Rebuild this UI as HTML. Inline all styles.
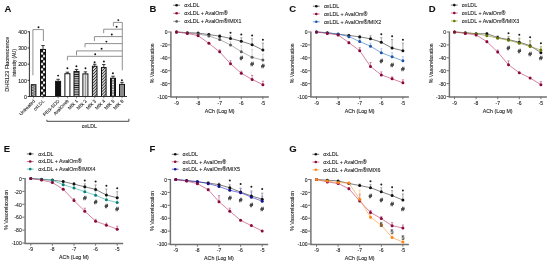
<!DOCTYPE html>
<html><head><meta charset="utf-8"><style>
html,body{margin:0;padding:0;background:#fff;}
svg{display:block;filter:blur(0.4px);}
text{font-family:"Liberation Sans", sans-serif;stroke:#222;stroke-width:0.1px;}
</style></head><body>
<svg width="550" height="264" viewBox="0 0 550 264" font-family='"Liberation Sans", sans-serif'>
<rect width="550" height="264" fill="#fff"/>
<text x="4.6" y="12" font-size="9.5" font-weight="bold" fill="#111">A</text>
<defs>
<pattern id="pU" width="4.6" height="2.6" patternUnits="userSpaceOnUse" x="31.6" y="0"><rect width="4.6" height="2.6" fill="#3a3a3a"/><circle cx="1.25" cy="0.65" r="0.95" fill="#f0f0f0"/><circle cx="3.35" cy="1.95" r="0.95" fill="#e8e8e8"/><circle cx="1.25" cy="3.25" r="0.95" fill="#f0f0f0"/><circle cx="3.35" cy="-0.65" r="0.95" fill="#e8e8e8"/></pattern>
<pattern id="pC" width="6" height="5.3" patternUnits="userSpaceOnUse" x="40" y="-1"><rect width="6" height="5.4" fill="#111"/><rect x="0.8" y="0.4" width="2.3" height="2.1" fill="#fff"/><rect x="3" y="3.05" width="2.3" height="2.1" fill="#fff"/></pattern>
<pattern id="pH" width="6" height="2.2" patternUnits="userSpaceOnUse"><rect width="6" height="2.2" fill="#111"/><rect y="0.2" width="6" height="1" fill="#fff"/></pattern>
<pattern id="pV" width="6" height="2" patternUnits="userSpaceOnUse" x="82.3"><rect width="6" height="2" fill="#fff"/><rect x="2.6" width="1.2" height="2" fill="#777"/></pattern>
<pattern id="pD" width="2.1" height="2.1" patternUnits="userSpaceOnUse" patternTransform="rotate(45)"><rect width="2.1" height="2.1" fill="#fff"/><rect width="0.95" height="2.1" fill="#222"/></pattern>
<pattern id="pG" width="6" height="2.45" patternUnits="userSpaceOnUse" x="110"><rect width="6" height="2.45" fill="#111"/><rect x="1.9" y="0" width="2.2" height="2.45" fill="#777"/><rect x="2.1" y="0.6" width="1.8" height="1.2" fill="#f4f4f4"/></pattern>
</defs>
<rect x="31.3" y="84.71" width="4.6" height="11.79" fill="url(#pU)" stroke="#111" stroke-width="1"/>
<path d="M43,48.95V45.55M41.3,45.55H44.7" stroke="#222" stroke-width="0.9" fill="none"/>
<rect x="40.5" y="49.45" width="5" height="47.05" fill="url(#pC)" stroke="#111" stroke-width="1"/>
<path d="M58.1,80.81V79.31M56.4,79.31H59.8" stroke="#222" stroke-width="0.9" fill="none"/>
<rect x="55.6" y="81.31" width="5" height="15.19" fill="#111" stroke="#111" stroke-width="1"/>
<path d="M67.4,73.21V72.21M65.7,72.21H69.1" stroke="#222" stroke-width="0.9" fill="none"/>
<rect x="64.9" y="73.71" width="5" height="22.79" fill="#fff" stroke="#111" stroke-width="1"/>
<path d="M76.5,70.94V69.44M74.8,69.44H78.2" stroke="#222" stroke-width="0.9" fill="none"/>
<rect x="74" y="71.44" width="5" height="25.06" fill="url(#pH)" stroke="#111" stroke-width="1"/>
<path d="M85.4,73.37V71.87M83.7,71.87H87.1" stroke="#222" stroke-width="0.9" fill="none"/>
<rect x="82.9" y="73.87" width="5" height="22.63" fill="url(#pV)" stroke="#111" stroke-width="1"/>
<path d="M94.7,65.77V64.27M93,64.27H96.4" stroke="#222" stroke-width="0.9" fill="none"/>
<rect x="92.4" y="66.27" width="4.6" height="30.23" fill="url(#pD)" stroke="#111" stroke-width="1"/>
<path d="M103.8,67.06V64.56M102.1,64.56H105.5" stroke="#222" stroke-width="0.9" fill="none"/>
<rect x="101.5" y="67.56" width="4.6" height="28.94" fill="url(#pD)" stroke="#111" stroke-width="1"/>
<path d="M113,77.74V76.24M111.3,76.24H114.7" stroke="#222" stroke-width="0.9" fill="none"/>
<rect x="110.5" y="78.24" width="5" height="18.26" fill="url(#pG)" stroke="#111" stroke-width="1"/>
<path d="M122,83.88V82.38M120.3,82.38H123.7" stroke="#222" stroke-width="0.9" fill="none"/>
<rect x="119.5" y="84.38" width="5" height="12.12" fill="#8a8a8a" stroke="#111" stroke-width="1"/>
<circle cx="58.1" cy="75.6" r="0.95" fill="#111"/>
<circle cx="67.4" cy="68.2" r="0.95" fill="#111"/>
<circle cx="76.4" cy="66.3" r="0.95" fill="#111"/>
<circle cx="85.5" cy="68.3" r="0.95" fill="#111"/>
<circle cx="94.6" cy="62.2" r="0.95" fill="#111"/>
<circle cx="103.9" cy="61.5" r="0.95" fill="#111"/>
<circle cx="112.9" cy="73.3" r="0.95" fill="#111"/>
<circle cx="121.9" cy="80.3" r="0.95" fill="#111"/>
<g stroke="#333" stroke-width="1" fill="none">
<line x1="29.4" y1="31.3" x2="29.4" y2="97"/>
<line x1="28.9" y1="96.5" x2="127" y2="96.5"/>
<line x1="27.6" y1="96.5" x2="29.4" y2="96.5"/>
<line x1="27.6" y1="80.33" x2="29.4" y2="80.33"/>
<line x1="27.6" y1="64.15" x2="29.4" y2="64.15"/>
<line x1="27.6" y1="47.98" x2="29.4" y2="47.98"/>
<line x1="27.6" y1="31.8" x2="29.4" y2="31.8"/>
<line x1="33.6" y1="96.5" x2="33.6" y2="98.3" stroke-width="0.6"/>
<line x1="43.0" y1="96.5" x2="43.0" y2="98.3" stroke-width="0.6"/>
<line x1="58.1" y1="96.5" x2="58.1" y2="98.3" stroke-width="0.6"/>
<line x1="67.4" y1="96.5" x2="67.4" y2="98.3" stroke-width="0.6"/>
<line x1="76.5" y1="96.5" x2="76.5" y2="98.3" stroke-width="0.6"/>
<line x1="85.4" y1="96.5" x2="85.4" y2="98.3" stroke-width="0.6"/>
<line x1="94.7" y1="96.5" x2="94.7" y2="98.3" stroke-width="0.6"/>
<line x1="103.8" y1="96.5" x2="103.8" y2="98.3" stroke-width="0.6"/>
<line x1="113.0" y1="96.5" x2="113.0" y2="98.3" stroke-width="0.6"/>
<line x1="122.0" y1="96.5" x2="122.0" y2="98.3" stroke-width="0.6"/>
</g>
<g font-size="5.2" fill="#222" text-anchor="end">
<text x="26.9" y="98.7">0</text>
<text x="26.9" y="82.53">100</text>
<text x="26.9" y="66.35">200</text>
<text x="26.9" y="50.18">300</text>
<text x="26.9" y="34">400</text>
</g>
<text transform="translate(8.9,64.2) rotate(-90)" font-size="5.8" fill="#222" text-anchor="middle" textLength="55" lengthAdjust="spacingAndGlyphs">DHR123 Fluorescence</text>
<text transform="translate(15.7,62.8) rotate(-90)" font-size="5.2" fill="#222" text-anchor="middle" textLength="27.5" lengthAdjust="spacingAndGlyphs">intensity (AU)</text>
<g stroke="#858585" stroke-width="0.9" fill="none">
<path d="M32.9,75.3V29.6H43.4V41"/>
<path d="M113.4,26.4V22.4H122.3"/>
<path d="M103.7,33.2V29.2H122.3"/>
<path d="M94.4,41V36.6H122.3"/>
<path d="M85,47.3V43.6H122.3"/>
<path d="M76.5,55.4V50.9H122.3"/>
<path d="M67.4,60.4V56.3H122.3"/>
<path d="M122.3,22.4V70.3"/>
</g>
<circle cx="38.5" cy="27.3" r="0.95" fill="#111"/>
<circle cx="118.3" cy="20.1" r="0.95" fill="#111"/>
<circle cx="116.6" cy="26.7" r="0.95" fill="#111"/>
<circle cx="111.8" cy="34.5" r="0.95" fill="#111"/>
<circle cx="106.4" cy="41.6" r="0.95" fill="#111"/>
<circle cx="101.6" cy="48.8" r="0.95" fill="#111"/>
<circle cx="95.2" cy="54.3" r="0.95" fill="#111"/>
<g font-size="4.6" fill="#222" text-anchor="end">
<text transform="translate(35.3,101.5) rotate(-45)">Untreated</text>
<text transform="translate(44.7,101.5) rotate(-45)">oxLDL</text>
<text transform="translate(59.8,101.5) rotate(-45)">PEG-SOD</text>
<text transform="translate(69.1,101.5) rotate(-45)">AvalOm®</text>
<text transform="translate(78.2,101.5) rotate(-45)">MIX 1</text>
<text transform="translate(87.1,101.5) rotate(-45)">MIX 2</text>
<text transform="translate(96.4,101.5) rotate(-45)">MIX 3</text>
<text transform="translate(105.5,101.5) rotate(-45)">MIX 4</text>
<text transform="translate(114.7,101.5) rotate(-45)">MIX 5</text>
<text transform="translate(123.7,101.5) rotate(-45)">MIX 6</text>
</g>
<path d="M46.9,119.8V121.3H128.9V118.8" stroke="#333" stroke-width="0.9" fill="none"/>
<text x="89.3" y="127.6" font-size="5.2" fill="#222" text-anchor="middle">oxLDL</text>
<text x="149.6" y="12.2" font-size="9.5" font-weight="bold" fill="#111">B</text>
<line x1="173.2" y1="5.2" x2="180" y2="5.2" stroke="#3a3a3a" stroke-width="0.7"/>
<circle cx="176.6" cy="5.2" r="1.3" fill="#111111"/>
<text x="184.2" y="7.05" font-size="5.3" fill="#222">oxLDL</text>
<line x1="173.2" y1="13.3" x2="180" y2="13.3" stroke="#c0406f" stroke-width="0.7"/>
<circle cx="176.6" cy="13.3" r="1.3" fill="#880a3c"/>
<text x="184.2" y="15.15" font-size="5.3" fill="#222">oxLDL + AvalOm®</text>
<line x1="173.2" y1="21.4" x2="180" y2="21.4" stroke="#8a8a8a" stroke-width="0.7"/>
<circle cx="176.6" cy="21.4" r="1.3" fill="#5a5a5a"/>
<text x="184.2" y="23.25" font-size="5.3" fill="#222">oxLDL + AvalOm®/MIX1</text>
<g stroke="#707070" stroke-width="1.45" fill="none">
<line x1="170.9" y1="31.4" x2="170.9" y2="97.1"/>
<line x1="170.2" y1="96.9" x2="268.9" y2="96.9"/>
<line x1="168.1" y1="32" x2="170.5" y2="32" stroke-width="1"/>
<line x1="168.1" y1="44.9" x2="170.5" y2="44.9" stroke-width="1"/>
<line x1="168.1" y1="57.8" x2="170.5" y2="57.8" stroke-width="1"/>
<line x1="168.1" y1="70.7" x2="170.5" y2="70.7" stroke-width="1"/>
<line x1="168.1" y1="83.6" x2="170.5" y2="83.6" stroke-width="1"/>
<line x1="168.1" y1="96.5" x2="170.5" y2="96.5" stroke-width="1"/>
<line x1="176.5" y1="96.5" x2="176.5" y2="99.2" stroke-width="1"/>
<line x1="198.1" y1="96.5" x2="198.1" y2="99.2" stroke-width="1"/>
<line x1="219.7" y1="96.5" x2="219.7" y2="99.2" stroke-width="1"/>
<line x1="241.3" y1="96.5" x2="241.3" y2="99.2" stroke-width="1"/>
<line x1="262.9" y1="96.5" x2="262.9" y2="99.2" stroke-width="1"/>
</g>
<g font-size="5" fill="#222" text-anchor="end">
<text x="167.5" y="34.2">0</text>
<text x="167.5" y="47.1">-20</text>
<text x="167.5" y="60">-40</text>
<text x="167.5" y="72.9">-60</text>
<text x="167.5" y="85.8">-80</text>
<text x="167.5" y="98.7">-100</text>
</g>
<g font-size="5" fill="#222" text-anchor="middle">
<text x="176.5" y="104.8">-9</text>
<text x="198.1" y="104.8">-8</text>
<text x="219.7" y="104.8">-7</text>
<text x="241.3" y="104.8">-6</text>
<text x="262.9" y="104.8">-5</text>
</g>
<text x="219.7" y="112.9" font-size="5.25" fill="#222" text-anchor="middle">ACh (Log M)</text>
<text transform="translate(154.1,63.3) rotate(-90)" font-size="5.2" fill="#222" text-anchor="middle">% Vasorelaxation</text>
<path d="M208.9,34.58V33.58M207.8,33.58H210" stroke="#7a7a7a" stroke-width="0.65" fill="none"/>
<path d="M219.7,36.13V34.63M218.6,34.63H220.8" stroke="#7a7a7a" stroke-width="0.65" fill="none"/>
<path d="M230.5,38.45V35.95M229.4,35.95H231.6" stroke="#7a7a7a" stroke-width="0.65" fill="none"/>
<path d="M241.3,41.29V37.79M240.2,37.79H242.4" stroke="#7a7a7a" stroke-width="0.65" fill="none"/>
<path d="M252.1,44.71V38.71M251,38.71H253.2" stroke="#7a7a7a" stroke-width="0.65" fill="none"/>
<path d="M262.9,50.06V43.06M261.8,43.06H264" stroke="#7a7a7a" stroke-width="0.65" fill="none"/>
<path d="M208.9,36V35M207.8,35H210" stroke="#bdbdbd" stroke-width="0.65" fill="none"/>
<path d="M219.7,39.61V37.61M218.6,37.61H220.8" stroke="#bdbdbd" stroke-width="0.65" fill="none"/>
<path d="M230.5,44.9V41.9M229.4,41.9H231.6" stroke="#bdbdbd" stroke-width="0.65" fill="none"/>
<path d="M241.3,51.67V45.67M240.2,45.67H242.4" stroke="#bdbdbd" stroke-width="0.65" fill="none"/>
<path d="M252.1,57.28V49.38M251,49.38H253.2" stroke="#bdbdbd" stroke-width="0.65" fill="none"/>
<path d="M262.9,60.12V54.12M261.8,54.12H264" stroke="#bdbdbd" stroke-width="0.65" fill="none"/>
<path d="M208.9,43.35V42.35M207.8,42.35H210" stroke="#b85080" stroke-width="0.65" fill="none"/>
<path d="M219.7,51.87V49.87M218.6,49.87H220.8" stroke="#b85080" stroke-width="0.65" fill="none"/>
<path d="M230.5,63.73V60.73M229.4,60.73H231.6" stroke="#b85080" stroke-width="0.65" fill="none"/>
<path d="M241.3,73.28V71.28M240.2,71.28H242.4" stroke="#b85080" stroke-width="0.65" fill="none"/>
<path d="M252.1,79.41V75.41M251,75.41H253.2" stroke="#b85080" stroke-width="0.65" fill="none"/>
<path d="M262.9,84.7V81.2M261.8,81.2H264" stroke="#b85080" stroke-width="0.65" fill="none"/>
<polyline points="176.5,32 187.3,32.65 198.1,33.1 208.9,34.58 219.7,36.13 230.5,38.45 241.3,41.29 252.1,44.71 262.9,50.06" stroke="#3a3a3a" stroke-width="0.65" fill="none"/>
<circle cx="176.5" cy="32" r="1.5" fill="#111111"/>
<circle cx="187.3" cy="32.65" r="1.5" fill="#111111"/>
<circle cx="198.1" cy="33.1" r="1.5" fill="#111111"/>
<circle cx="208.9" cy="34.58" r="1.5" fill="#111111"/>
<circle cx="219.7" cy="36.13" r="1.5" fill="#111111"/>
<circle cx="230.5" cy="38.45" r="1.5" fill="#111111"/>
<circle cx="241.3" cy="41.29" r="1.5" fill="#111111"/>
<circle cx="252.1" cy="44.71" r="1.5" fill="#111111"/>
<circle cx="262.9" cy="50.06" r="1.5" fill="#111111"/>
<polyline points="176.5,32 187.3,32.97 198.1,33.94 208.9,36 219.7,39.61 230.5,44.9 241.3,51.67 252.1,57.28 262.9,60.12" stroke="#8a8a8a" stroke-width="0.65" fill="none"/>
<circle cx="176.5" cy="32" r="1.5" fill="#5a5a5a"/>
<circle cx="187.3" cy="32.97" r="1.5" fill="#5a5a5a"/>
<circle cx="198.1" cy="33.94" r="1.5" fill="#5a5a5a"/>
<circle cx="208.9" cy="36" r="1.5" fill="#5a5a5a"/>
<circle cx="219.7" cy="39.61" r="1.5" fill="#5a5a5a"/>
<circle cx="230.5" cy="44.9" r="1.5" fill="#5a5a5a"/>
<circle cx="241.3" cy="51.67" r="1.5" fill="#5a5a5a"/>
<circle cx="252.1" cy="57.28" r="1.5" fill="#5a5a5a"/>
<circle cx="262.9" cy="60.12" r="1.5" fill="#5a5a5a"/>
<polyline points="176.5,32 187.3,33.42 198.1,35.68 208.9,43.35 219.7,51.87 230.5,63.73 241.3,73.28 252.1,79.41 262.9,84.7" stroke="#c0406f" stroke-width="0.65" fill="none"/>
<circle cx="176.5" cy="32" r="1.5" fill="#880a3c"/>
<circle cx="187.3" cy="33.42" r="1.5" fill="#880a3c"/>
<circle cx="198.1" cy="35.68" r="1.5" fill="#880a3c"/>
<circle cx="208.9" cy="43.35" r="1.5" fill="#880a3c"/>
<circle cx="219.7" cy="51.87" r="1.5" fill="#880a3c"/>
<circle cx="230.5" cy="63.73" r="1.5" fill="#880a3c"/>
<circle cx="241.3" cy="73.28" r="1.5" fill="#880a3c"/>
<circle cx="252.1" cy="79.41" r="1.5" fill="#880a3c"/>
<circle cx="262.9" cy="84.7" r="1.5" fill="#880a3c"/>
<circle cx="230.5" cy="32.75" r="1" fill="#1a1a1a"/>
<circle cx="241.3" cy="34.59" r="1" fill="#1a1a1a"/>
<circle cx="252.1" cy="35.51" r="1" fill="#1a1a1a"/>
<circle cx="262.9" cy="39.86" r="1" fill="#1a1a1a"/>
<text x="241.3" y="60" font-size="5.9" fill="#444" text-anchor="middle" font-weight="bold" style="stroke:#444;stroke-width:0.35px">#</text>
<text x="252.1" y="65.61" font-size="5.9" fill="#444" text-anchor="middle" font-weight="bold" style="stroke:#444;stroke-width:0.35px">#</text>
<text x="262.9" y="68.45" font-size="5.9" fill="#444" text-anchor="middle" font-weight="bold" style="stroke:#444;stroke-width:0.35px">#</text>
<text x="289.3" y="12.2" font-size="9.5" font-weight="bold" fill="#111">C</text>
<line x1="312.9" y1="6.2" x2="319.7" y2="6.2" stroke="#3a3a3a" stroke-width="0.7"/>
<circle cx="316.3" cy="6.2" r="1.3" fill="#111111"/>
<text x="323.9" y="8.05" font-size="5.3" fill="#222">oxLDL</text>
<line x1="312.9" y1="14" x2="319.7" y2="14" stroke="#c0406f" stroke-width="0.7"/>
<circle cx="316.3" cy="14" r="1.3" fill="#880a3c"/>
<text x="323.9" y="15.85" font-size="5.3" fill="#222">oxLDL + AvalOm®</text>
<line x1="312.9" y1="21.8" x2="319.7" y2="21.8" stroke="#3d7cc9" stroke-width="0.7"/>
<circle cx="316.3" cy="21.8" r="1.3" fill="#1c55a6"/>
<text x="323.9" y="23.65" font-size="5.3" fill="#222">oxLDL + AvalOm®/MIX2</text>
<g stroke="#707070" stroke-width="1.45" fill="none">
<line x1="310.9" y1="31.4" x2="310.9" y2="97.1"/>
<line x1="310.2" y1="96.9" x2="408.9" y2="96.9"/>
<line x1="308.1" y1="32" x2="310.5" y2="32" stroke-width="1"/>
<line x1="308.1" y1="44.9" x2="310.5" y2="44.9" stroke-width="1"/>
<line x1="308.1" y1="57.8" x2="310.5" y2="57.8" stroke-width="1"/>
<line x1="308.1" y1="70.7" x2="310.5" y2="70.7" stroke-width="1"/>
<line x1="308.1" y1="83.6" x2="310.5" y2="83.6" stroke-width="1"/>
<line x1="308.1" y1="96.5" x2="310.5" y2="96.5" stroke-width="1"/>
<line x1="316.5" y1="96.5" x2="316.5" y2="99.2" stroke-width="1"/>
<line x1="338.1" y1="96.5" x2="338.1" y2="99.2" stroke-width="1"/>
<line x1="359.7" y1="96.5" x2="359.7" y2="99.2" stroke-width="1"/>
<line x1="381.3" y1="96.5" x2="381.3" y2="99.2" stroke-width="1"/>
<line x1="402.9" y1="96.5" x2="402.9" y2="99.2" stroke-width="1"/>
</g>
<g font-size="5" fill="#222" text-anchor="end">
<text x="307.5" y="34.2">0</text>
<text x="307.5" y="47.1">-20</text>
<text x="307.5" y="60">-40</text>
<text x="307.5" y="72.9">-60</text>
<text x="307.5" y="85.8">-80</text>
<text x="307.5" y="98.7">-100</text>
</g>
<g font-size="5" fill="#222" text-anchor="middle">
<text x="316.5" y="104.8">-9</text>
<text x="338.1" y="104.8">-8</text>
<text x="359.7" y="104.8">-7</text>
<text x="381.3" y="104.8">-6</text>
<text x="402.9" y="104.8">-5</text>
</g>
<text x="359.7" y="112.9" font-size="5.25" fill="#222" text-anchor="middle">ACh (Log M)</text>
<text transform="translate(294.1,63.3) rotate(-90)" font-size="5.2" fill="#222" text-anchor="middle">% Vasorelaxation</text>
<path d="M348.9,35.42V34.42M347.8,34.42H350" stroke="#7a7a7a" stroke-width="0.65" fill="none"/>
<path d="M359.7,36.9V35.4M358.6,35.4H360.8" stroke="#7a7a7a" stroke-width="0.65" fill="none"/>
<path d="M370.5,38.77V35.77M369.4,35.77H371.6" stroke="#7a7a7a" stroke-width="0.65" fill="none"/>
<path d="M381.3,42.19V37.69M380.2,37.69H382.4" stroke="#7a7a7a" stroke-width="0.65" fill="none"/>
<path d="M392.1,48.06V39.56M391,39.56H393.2" stroke="#7a7a7a" stroke-width="0.65" fill="none"/>
<path d="M402.9,50.7V43.1M401.8,43.1H404" stroke="#7a7a7a" stroke-width="0.65" fill="none"/>
<path d="M348.9,36.64V35.64M347.8,35.64H350" stroke="#8db0dd" stroke-width="0.65" fill="none"/>
<path d="M359.7,41.55V39.55M358.6,39.55H360.8" stroke="#8db0dd" stroke-width="0.65" fill="none"/>
<path d="M370.5,46.19V43.19M369.4,43.19H371.6" stroke="#8db0dd" stroke-width="0.65" fill="none"/>
<path d="M381.3,52.77V48.77M380.2,48.77H382.4" stroke="#8db0dd" stroke-width="0.65" fill="none"/>
<path d="M392.1,56.77V52.77M391,52.77H393.2" stroke="#8db0dd" stroke-width="0.65" fill="none"/>
<path d="M402.9,60.77V56.77M401.8,56.77H404" stroke="#8db0dd" stroke-width="0.65" fill="none"/>
<path d="M348.9,42.71V41.71M347.8,41.71H350" stroke="#b85080" stroke-width="0.65" fill="none"/>
<path d="M359.7,50.7V47.7M358.6,47.7H360.8" stroke="#b85080" stroke-width="0.65" fill="none"/>
<path d="M370.5,66.57V62.57M369.4,62.57H371.6" stroke="#b85080" stroke-width="0.65" fill="none"/>
<path d="M381.3,74.89V71.89M380.2,71.89H382.4" stroke="#b85080" stroke-width="0.65" fill="none"/>
<path d="M392.1,78.83V76.83M391,76.83H393.2" stroke="#b85080" stroke-width="0.65" fill="none"/>
<path d="M402.9,82.83V79.83M401.8,79.83H404" stroke="#b85080" stroke-width="0.65" fill="none"/>
<polyline points="316.5,32 327.3,32.65 338.1,34.26 348.9,35.42 359.7,36.9 370.5,38.77 381.3,42.19 392.1,48.06 402.9,50.7" stroke="#3a3a3a" stroke-width="0.65" fill="none"/>
<circle cx="316.5" cy="32" r="1.5" fill="#111111"/>
<circle cx="327.3" cy="32.65" r="1.5" fill="#111111"/>
<circle cx="338.1" cy="34.26" r="1.5" fill="#111111"/>
<circle cx="348.9" cy="35.42" r="1.5" fill="#111111"/>
<circle cx="359.7" cy="36.9" r="1.5" fill="#111111"/>
<circle cx="370.5" cy="38.77" r="1.5" fill="#111111"/>
<circle cx="381.3" cy="42.19" r="1.5" fill="#111111"/>
<circle cx="392.1" cy="48.06" r="1.5" fill="#111111"/>
<circle cx="402.9" cy="50.7" r="1.5" fill="#111111"/>
<polyline points="316.5,32 327.3,32.97 338.1,33.94 348.9,36.64 359.7,41.55 370.5,46.19 381.3,52.77 392.1,56.77 402.9,60.77" stroke="#3d7cc9" stroke-width="0.65" fill="none"/>
<circle cx="316.5" cy="32" r="1.5" fill="#1c55a6"/>
<circle cx="327.3" cy="32.97" r="1.5" fill="#1c55a6"/>
<circle cx="338.1" cy="33.94" r="1.5" fill="#1c55a6"/>
<circle cx="348.9" cy="36.64" r="1.5" fill="#1c55a6"/>
<circle cx="359.7" cy="41.55" r="1.5" fill="#1c55a6"/>
<circle cx="370.5" cy="46.19" r="1.5" fill="#1c55a6"/>
<circle cx="381.3" cy="52.77" r="1.5" fill="#1c55a6"/>
<circle cx="392.1" cy="56.77" r="1.5" fill="#1c55a6"/>
<circle cx="402.9" cy="60.77" r="1.5" fill="#1c55a6"/>
<polyline points="316.5,32 327.3,33.42 338.1,34.9 348.9,42.71 359.7,50.7 370.5,66.57 381.3,74.89 392.1,78.83 402.9,82.83" stroke="#c0406f" stroke-width="0.65" fill="none"/>
<circle cx="316.5" cy="32" r="1.5" fill="#880a3c"/>
<circle cx="327.3" cy="33.42" r="1.5" fill="#880a3c"/>
<circle cx="338.1" cy="34.9" r="1.5" fill="#880a3c"/>
<circle cx="348.9" cy="42.71" r="1.5" fill="#880a3c"/>
<circle cx="359.7" cy="50.7" r="1.5" fill="#880a3c"/>
<circle cx="370.5" cy="66.57" r="1.5" fill="#880a3c"/>
<circle cx="381.3" cy="74.89" r="1.5" fill="#880a3c"/>
<circle cx="392.1" cy="78.83" r="1.5" fill="#880a3c"/>
<circle cx="402.9" cy="82.83" r="1.5" fill="#880a3c"/>
<circle cx="381.3" cy="34.29" r="1" fill="#1a1a1a"/>
<circle cx="392.1" cy="36.16" r="1" fill="#1a1a1a"/>
<circle cx="402.9" cy="39.7" r="1" fill="#1a1a1a"/>
<text x="381.3" y="63.29" font-size="5.9" fill="#444" text-anchor="middle" font-weight="bold" style="stroke:#444;stroke-width:0.35px">#</text>
<text x="392.1" y="67.29" font-size="5.9" fill="#444" text-anchor="middle" font-weight="bold" style="stroke:#444;stroke-width:0.35px">#</text>
<text x="402.9" y="71.29" font-size="5.9" fill="#444" text-anchor="middle" font-weight="bold" style="stroke:#444;stroke-width:0.35px">#</text>
<text x="428.8" y="12.2" font-size="9.5" font-weight="bold" fill="#111">D</text>
<line x1="450.9" y1="5.1" x2="457.7" y2="5.1" stroke="#3a3a3a" stroke-width="0.7"/>
<circle cx="454.3" cy="5.1" r="1.3" fill="#111111"/>
<text x="461.8" y="6.95" font-size="5.3" fill="#222">oxLDL</text>
<line x1="450.9" y1="13.05" x2="457.7" y2="13.05" stroke="#c0406f" stroke-width="0.7"/>
<circle cx="454.3" cy="13.05" r="1.3" fill="#880a3c"/>
<text x="461.8" y="14.9" font-size="5.3" fill="#222">oxLDL + AvalOm®</text>
<line x1="450.9" y1="21" x2="457.7" y2="21" stroke="#8f963a" stroke-width="0.7"/>
<circle cx="454.3" cy="21" r="1.3" fill="#6b7600"/>
<text x="461.8" y="22.85" font-size="5.3" fill="#222">oxLDL + AvalOm®/MIX3</text>
<g stroke="#707070" stroke-width="1.45" fill="none">
<line x1="449.4" y1="31.4" x2="449.4" y2="97.1"/>
<line x1="448.7" y1="96.9" x2="546.9" y2="96.9"/>
<line x1="446.6" y1="32" x2="449" y2="32" stroke-width="1"/>
<line x1="446.6" y1="44.9" x2="449" y2="44.9" stroke-width="1"/>
<line x1="446.6" y1="57.8" x2="449" y2="57.8" stroke-width="1"/>
<line x1="446.6" y1="70.7" x2="449" y2="70.7" stroke-width="1"/>
<line x1="446.6" y1="83.6" x2="449" y2="83.6" stroke-width="1"/>
<line x1="446.6" y1="96.5" x2="449" y2="96.5" stroke-width="1"/>
<line x1="454.5" y1="96.5" x2="454.5" y2="99.2" stroke-width="1"/>
<line x1="476.1" y1="96.5" x2="476.1" y2="99.2" stroke-width="1"/>
<line x1="497.7" y1="96.5" x2="497.7" y2="99.2" stroke-width="1"/>
<line x1="519.3" y1="96.5" x2="519.3" y2="99.2" stroke-width="1"/>
<line x1="540.9" y1="96.5" x2="540.9" y2="99.2" stroke-width="1"/>
</g>
<g font-size="5" fill="#222" text-anchor="end">
<text x="446" y="34.2">0</text>
<text x="446" y="47.1">-20</text>
<text x="446" y="60">-40</text>
<text x="446" y="72.9">-60</text>
<text x="446" y="85.8">-80</text>
<text x="446" y="98.7">-100</text>
</g>
<g font-size="5" fill="#222" text-anchor="middle">
<text x="454.5" y="104.8">-9</text>
<text x="476.1" y="104.8">-8</text>
<text x="497.7" y="104.8">-7</text>
<text x="519.3" y="104.8">-6</text>
<text x="540.9" y="104.8">-5</text>
</g>
<text x="497.7" y="112.9" font-size="5.25" fill="#222" text-anchor="middle">ACh (Log M)</text>
<text transform="translate(432.6,63.3) rotate(-90)" font-size="5.2" fill="#222" text-anchor="middle">% Vasorelaxation</text>
<path d="M486.9,33.74V32.74M485.8,32.74H488" stroke="#7a7a7a" stroke-width="0.65" fill="none"/>
<path d="M497.7,37.48V35.98M496.6,35.98H498.8" stroke="#7a7a7a" stroke-width="0.65" fill="none"/>
<path d="M508.5,39.61V36.61M507.4,36.61H509.6" stroke="#7a7a7a" stroke-width="0.65" fill="none"/>
<path d="M519.3,42.19V38.19M518.2,38.19H520.4" stroke="#7a7a7a" stroke-width="0.65" fill="none"/>
<path d="M530.1,45.67V40.67M529,40.67H531.2" stroke="#7a7a7a" stroke-width="0.65" fill="none"/>
<path d="M540.9,52.7V46.7M539.8,46.7H542" stroke="#7a7a7a" stroke-width="0.65" fill="none"/>
<path d="M486.9,35.74V34.74M485.8,34.74H488" stroke="#bcc46a" stroke-width="0.65" fill="none"/>
<path d="M497.7,38.19V36.19M496.6,36.19H498.8" stroke="#bcc46a" stroke-width="0.65" fill="none"/>
<path d="M508.5,40.32V37.32M507.4,37.32H509.6" stroke="#bcc46a" stroke-width="0.65" fill="none"/>
<path d="M519.3,43.22V39.22M518.2,39.22H520.4" stroke="#bcc46a" stroke-width="0.65" fill="none"/>
<path d="M530.1,46.51V41.51M529,41.51H531.2" stroke="#bcc46a" stroke-width="0.65" fill="none"/>
<path d="M540.9,50V46.5M539.8,46.5H542" stroke="#bcc46a" stroke-width="0.65" fill="none"/>
<path d="M486.9,41.67V40.67M485.8,40.67H488" stroke="#b85080" stroke-width="0.65" fill="none"/>
<path d="M497.7,52V50M496.6,50H498.8" stroke="#b85080" stroke-width="0.65" fill="none"/>
<path d="M508.5,64.83V60.83M507.4,60.83H509.6" stroke="#b85080" stroke-width="0.65" fill="none"/>
<path d="M540.9,84.7V81.7M539.8,81.7H542" stroke="#b85080" stroke-width="0.65" fill="none"/>
<polyline points="454.5,32 465.3,32.65 476.1,33.74 486.9,33.74 497.7,37.48 508.5,39.61 519.3,42.19 530.1,45.67 540.9,52.7" stroke="#3a3a3a" stroke-width="0.65" fill="none"/>
<circle cx="454.5" cy="32" r="1.5" fill="#111111"/>
<circle cx="465.3" cy="32.65" r="1.5" fill="#111111"/>
<circle cx="476.1" cy="33.74" r="1.5" fill="#111111"/>
<circle cx="486.9" cy="33.74" r="1.5" fill="#111111"/>
<circle cx="497.7" cy="37.48" r="1.5" fill="#111111"/>
<circle cx="508.5" cy="39.61" r="1.5" fill="#111111"/>
<circle cx="519.3" cy="42.19" r="1.5" fill="#111111"/>
<circle cx="530.1" cy="45.67" r="1.5" fill="#111111"/>
<circle cx="540.9" cy="52.7" r="1.5" fill="#111111"/>
<polyline points="454.5,32 465.3,32.97 476.1,33.74 486.9,35.74 497.7,38.19 508.5,40.32 519.3,43.22 530.1,46.51 540.9,50" stroke="#8f963a" stroke-width="0.65" fill="none"/>
<circle cx="454.5" cy="32" r="1.5" fill="#6b7600"/>
<circle cx="465.3" cy="32.97" r="1.5" fill="#6b7600"/>
<circle cx="476.1" cy="33.74" r="1.5" fill="#6b7600"/>
<circle cx="486.9" cy="35.74" r="1.5" fill="#6b7600"/>
<circle cx="497.7" cy="38.19" r="1.5" fill="#6b7600"/>
<circle cx="508.5" cy="40.32" r="1.5" fill="#6b7600"/>
<circle cx="519.3" cy="43.22" r="1.5" fill="#6b7600"/>
<circle cx="530.1" cy="46.51" r="1.5" fill="#6b7600"/>
<circle cx="540.9" cy="50" r="1.5" fill="#6b7600"/>
<polyline points="454.5,32 465.3,33.42 476.1,34.97 486.9,41.67 497.7,52 508.5,64.83 519.3,72.7 530.1,77.99 540.9,84.7" stroke="#c0406f" stroke-width="0.65" fill="none"/>
<circle cx="454.5" cy="32" r="1.5" fill="#880a3c"/>
<circle cx="465.3" cy="33.42" r="1.5" fill="#880a3c"/>
<circle cx="476.1" cy="34.97" r="1.5" fill="#880a3c"/>
<circle cx="486.9" cy="41.67" r="1.5" fill="#880a3c"/>
<circle cx="497.7" cy="52" r="1.5" fill="#880a3c"/>
<circle cx="508.5" cy="64.83" r="1.5" fill="#880a3c"/>
<circle cx="519.3" cy="72.7" r="1.5" fill="#880a3c"/>
<circle cx="530.1" cy="77.99" r="1.5" fill="#880a3c"/>
<circle cx="540.9" cy="84.7" r="1.5" fill="#880a3c"/>
<circle cx="508.5" cy="33.21" r="1" fill="#1a1a1a"/>
<circle cx="519.3" cy="34.79" r="1" fill="#1a1a1a"/>
<circle cx="530.1" cy="37.27" r="1" fill="#1a1a1a"/>
<circle cx="540.9" cy="43.3" r="1" fill="#1a1a1a"/>
<text x="508.5" y="50.24" font-size="5.9" fill="#444" text-anchor="middle" font-weight="bold" style="stroke:#444;stroke-width:0.35px">#</text>
<text x="519.3" y="53.15" font-size="5.9" fill="#444" text-anchor="middle" font-weight="bold" style="stroke:#444;stroke-width:0.35px">#</text>
<text x="530.1" y="56.44" font-size="5.9" fill="#444" text-anchor="middle" font-weight="bold" style="stroke:#444;stroke-width:0.35px">#</text>
<text x="540.9" y="59.92" font-size="5.9" fill="#444" text-anchor="middle" font-weight="bold" style="stroke:#444;stroke-width:0.35px">#</text>
<text x="3.8" y="152.2" font-size="9.5" font-weight="bold" fill="#111">E</text>
<line x1="26.8" y1="153.9" x2="33.6" y2="153.9" stroke="#3a3a3a" stroke-width="0.7"/>
<circle cx="30.2" cy="153.9" r="1.3" fill="#111111"/>
<text x="38.2" y="155.75" font-size="5.3" fill="#222">oxLDL</text>
<line x1="26.8" y1="161.5" x2="33.6" y2="161.5" stroke="#c0406f" stroke-width="0.7"/>
<circle cx="30.2" cy="161.5" r="1.3" fill="#880a3c"/>
<text x="38.2" y="163.35" font-size="5.3" fill="#222">oxLDL + AvalOm®</text>
<line x1="26.8" y1="169.1" x2="33.6" y2="169.1" stroke="#3db3ab" stroke-width="0.7"/>
<circle cx="30.2" cy="169.1" r="1.3" fill="#0b7f77"/>
<text x="38.2" y="170.95" font-size="5.3" fill="#222">oxLDL + AvalOm®/MIX4</text>
<g stroke="#707070" stroke-width="1.45" fill="none">
<line x1="25.1" y1="177.9" x2="25.1" y2="243.6"/>
<line x1="24.4" y1="243.4" x2="123.2" y2="243.4"/>
<line x1="22.3" y1="178.5" x2="24.7" y2="178.5" stroke-width="1"/>
<line x1="22.3" y1="191.4" x2="24.7" y2="191.4" stroke-width="1"/>
<line x1="22.3" y1="204.3" x2="24.7" y2="204.3" stroke-width="1"/>
<line x1="22.3" y1="217.2" x2="24.7" y2="217.2" stroke-width="1"/>
<line x1="22.3" y1="230.1" x2="24.7" y2="230.1" stroke-width="1"/>
<line x1="22.3" y1="243" x2="24.7" y2="243" stroke-width="1"/>
<line x1="30.8" y1="243" x2="30.8" y2="245.7" stroke-width="1"/>
<line x1="52.4" y1="243" x2="52.4" y2="245.7" stroke-width="1"/>
<line x1="74" y1="243" x2="74" y2="245.7" stroke-width="1"/>
<line x1="95.6" y1="243" x2="95.6" y2="245.7" stroke-width="1"/>
<line x1="117.2" y1="243" x2="117.2" y2="245.7" stroke-width="1"/>
</g>
<g font-size="5" fill="#222" text-anchor="end">
<text x="21.7" y="180.7">0</text>
<text x="21.7" y="193.6">-20</text>
<text x="21.7" y="206.5">-40</text>
<text x="21.7" y="219.4">-60</text>
<text x="21.7" y="232.3">-80</text>
<text x="21.7" y="245.2">-100</text>
</g>
<g font-size="5" fill="#222" text-anchor="middle">
<text x="30.8" y="251.3">-9</text>
<text x="52.4" y="251.3">-8</text>
<text x="74" y="251.3">-7</text>
<text x="95.6" y="251.3">-6</text>
<text x="117.2" y="251.3">-5</text>
</g>
<text x="74" y="259.4" font-size="5.25" fill="#222" text-anchor="middle">ACh (Log M)</text>
<text transform="translate(8.3,209.8) rotate(-90)" font-size="5.2" fill="#222" text-anchor="middle">% Vasorelaxation</text>
<path d="M63.2,181.6V180.6M62.1,180.6H64.3" stroke="#7a7a7a" stroke-width="0.65" fill="none"/>
<path d="M74,184.11V182.61M72.9,182.61H75.1" stroke="#7a7a7a" stroke-width="0.65" fill="none"/>
<path d="M84.8,186.82V183.82M83.7,183.82H85.9" stroke="#7a7a7a" stroke-width="0.65" fill="none"/>
<path d="M95.6,189.4V184.9M94.5,184.9H96.7" stroke="#7a7a7a" stroke-width="0.65" fill="none"/>
<path d="M106.4,195.08V189.08M105.3,189.08H107.5" stroke="#7a7a7a" stroke-width="0.65" fill="none"/>
<path d="M117.2,197.72V191.72M116.1,191.72H118.3" stroke="#7a7a7a" stroke-width="0.65" fill="none"/>
<path d="M63.2,184.63V183.63M62.1,183.63H64.3" stroke="#86cbc6" stroke-width="0.65" fill="none"/>
<path d="M74,188.11V186.11M72.9,186.11H75.1" stroke="#86cbc6" stroke-width="0.65" fill="none"/>
<path d="M84.8,191.72V188.72M83.7,188.72H85.9" stroke="#86cbc6" stroke-width="0.65" fill="none"/>
<path d="M95.6,195.27V191.27M94.5,191.27H96.7" stroke="#86cbc6" stroke-width="0.65" fill="none"/>
<path d="M106.4,199.78V194.78M105.3,194.78H107.5" stroke="#86cbc6" stroke-width="0.65" fill="none"/>
<path d="M117.2,202.49V198.49M116.1,198.49H118.3" stroke="#86cbc6" stroke-width="0.65" fill="none"/>
<path d="M63.2,189.27V188.27M62.1,188.27H64.3" stroke="#b85080" stroke-width="0.65" fill="none"/>
<path d="M74,200.62V198.62M72.9,198.62H75.1" stroke="#b85080" stroke-width="0.65" fill="none"/>
<path d="M84.8,211.2V208.2M83.7,208.2H85.9" stroke="#b85080" stroke-width="0.65" fill="none"/>
<path d="M95.6,221.26V219.26M94.5,219.26H96.7" stroke="#b85080" stroke-width="0.65" fill="none"/>
<path d="M106.4,225.13V223.13M105.3,223.13H107.5" stroke="#b85080" stroke-width="0.65" fill="none"/>
<path d="M117.2,229.13V226.13M116.1,226.13H118.3" stroke="#b85080" stroke-width="0.65" fill="none"/>
<polyline points="30.8,178.5 41.6,179.15 52.4,180.11 63.2,181.6 74,184.11 84.8,186.82 95.6,189.4 106.4,195.08 117.2,197.72" stroke="#3a3a3a" stroke-width="0.65" fill="none"/>
<circle cx="30.8" cy="178.5" r="1.5" fill="#111111"/>
<circle cx="41.6" cy="179.15" r="1.5" fill="#111111"/>
<circle cx="52.4" cy="180.11" r="1.5" fill="#111111"/>
<circle cx="63.2" cy="181.6" r="1.5" fill="#111111"/>
<circle cx="74" cy="184.11" r="1.5" fill="#111111"/>
<circle cx="84.8" cy="186.82" r="1.5" fill="#111111"/>
<circle cx="95.6" cy="189.4" r="1.5" fill="#111111"/>
<circle cx="106.4" cy="195.08" r="1.5" fill="#111111"/>
<circle cx="117.2" cy="197.72" r="1.5" fill="#111111"/>
<polyline points="30.8,178.5 41.6,179.47 52.4,180.31 63.2,184.63 74,188.11 84.8,191.72 95.6,195.27 106.4,199.78 117.2,202.49" stroke="#3db3ab" stroke-width="0.65" fill="none"/>
<circle cx="30.8" cy="178.5" r="1.5" fill="#0b7f77"/>
<circle cx="41.6" cy="179.47" r="1.5" fill="#0b7f77"/>
<circle cx="52.4" cy="180.31" r="1.5" fill="#0b7f77"/>
<circle cx="63.2" cy="184.63" r="1.5" fill="#0b7f77"/>
<circle cx="74" cy="188.11" r="1.5" fill="#0b7f77"/>
<circle cx="84.8" cy="191.72" r="1.5" fill="#0b7f77"/>
<circle cx="95.6" cy="195.27" r="1.5" fill="#0b7f77"/>
<circle cx="106.4" cy="199.78" r="1.5" fill="#0b7f77"/>
<circle cx="117.2" cy="202.49" r="1.5" fill="#0b7f77"/>
<polyline points="30.8,178.5 41.6,180.11 52.4,182.5 63.2,189.27 74,200.62 84.8,211.2 95.6,221.26 106.4,225.13 117.2,229.13" stroke="#c0406f" stroke-width="0.65" fill="none"/>
<circle cx="30.8" cy="178.5" r="1.5" fill="#880a3c"/>
<circle cx="41.6" cy="180.11" r="1.5" fill="#880a3c"/>
<circle cx="52.4" cy="182.5" r="1.5" fill="#880a3c"/>
<circle cx="63.2" cy="189.27" r="1.5" fill="#880a3c"/>
<circle cx="74" cy="200.62" r="1.5" fill="#880a3c"/>
<circle cx="84.8" cy="211.2" r="1.5" fill="#880a3c"/>
<circle cx="95.6" cy="221.26" r="1.5" fill="#880a3c"/>
<circle cx="106.4" cy="225.13" r="1.5" fill="#880a3c"/>
<circle cx="117.2" cy="229.13" r="1.5" fill="#880a3c"/>
<circle cx="84.8" cy="180.42" r="1" fill="#1a1a1a"/>
<circle cx="95.6" cy="181.5" r="1" fill="#1a1a1a"/>
<circle cx="106.4" cy="185.68" r="1" fill="#1a1a1a"/>
<circle cx="117.2" cy="188.32" r="1" fill="#1a1a1a"/>
<text x="84.8" y="200.25" font-size="5.9" fill="#444" text-anchor="middle" font-weight="bold" style="stroke:#444;stroke-width:0.35px">#</text>
<text x="95.6" y="203.79" font-size="5.9" fill="#444" text-anchor="middle" font-weight="bold" style="stroke:#444;stroke-width:0.35px">#</text>
<text x="106.4" y="208.31" font-size="5.9" fill="#444" text-anchor="middle" font-weight="bold" style="stroke:#444;stroke-width:0.35px">#</text>
<text x="117.2" y="211.02" font-size="5.9" fill="#444" text-anchor="middle" font-weight="bold" style="stroke:#444;stroke-width:0.35px">#</text>
<text x="149.6" y="152.2" font-size="9.5" font-weight="bold" fill="#111">F</text>
<line x1="171.8" y1="154.3" x2="178.6" y2="154.3" stroke="#3a3a3a" stroke-width="0.7"/>
<circle cx="175.2" cy="154.3" r="1.3" fill="#111111"/>
<text x="182.6" y="156.15" font-size="5.3" fill="#222">oxLDL</text>
<line x1="171.8" y1="161.75" x2="178.6" y2="161.75" stroke="#c0406f" stroke-width="0.7"/>
<circle cx="175.2" cy="161.75" r="1.3" fill="#880a3c"/>
<text x="182.6" y="163.6" font-size="5.3" fill="#222">oxLDL + AvalOm®</text>
<line x1="171.8" y1="169.2" x2="178.6" y2="169.2" stroke="#3434c8" stroke-width="0.7"/>
<circle cx="175.2" cy="169.2" r="1.3" fill="#14148a"/>
<text x="182.6" y="171.05" font-size="5.3" fill="#222">oxLDL + AvalOm®/MIX5</text>
<g stroke="#707070" stroke-width="1.45" fill="none">
<line x1="170.4" y1="178.9" x2="170.4" y2="244.6"/>
<line x1="169.7" y1="244.4" x2="268.2" y2="244.4"/>
<line x1="167.6" y1="179.5" x2="170" y2="179.5" stroke-width="1"/>
<line x1="167.6" y1="192.4" x2="170" y2="192.4" stroke-width="1"/>
<line x1="167.6" y1="205.3" x2="170" y2="205.3" stroke-width="1"/>
<line x1="167.6" y1="218.2" x2="170" y2="218.2" stroke-width="1"/>
<line x1="167.6" y1="231.1" x2="170" y2="231.1" stroke-width="1"/>
<line x1="167.6" y1="244" x2="170" y2="244" stroke-width="1"/>
<line x1="175.8" y1="244" x2="175.8" y2="246.7" stroke-width="1"/>
<line x1="197.4" y1="244" x2="197.4" y2="246.7" stroke-width="1"/>
<line x1="219" y1="244" x2="219" y2="246.7" stroke-width="1"/>
<line x1="240.6" y1="244" x2="240.6" y2="246.7" stroke-width="1"/>
<line x1="262.2" y1="244" x2="262.2" y2="246.7" stroke-width="1"/>
</g>
<g font-size="5" fill="#222" text-anchor="end">
<text x="167" y="181.7">0</text>
<text x="167" y="194.6">-20</text>
<text x="167" y="207.5">-40</text>
<text x="167" y="220.4">-60</text>
<text x="167" y="233.3">-80</text>
<text x="167" y="246.2">-100</text>
</g>
<g font-size="5" fill="#222" text-anchor="middle">
<text x="175.8" y="252.3">-9</text>
<text x="197.4" y="252.3">-8</text>
<text x="219" y="252.3">-7</text>
<text x="240.6" y="252.3">-6</text>
<text x="262.2" y="252.3">-5</text>
</g>
<text x="219" y="260.4" font-size="5.25" fill="#222" text-anchor="middle">ACh (Log M)</text>
<text transform="translate(153.6,210.8) rotate(-90)" font-size="5.2" fill="#222" text-anchor="middle">% Vasorelaxation</text>
<path d="M208.2,182.98V181.98M207.1,181.98H209.3" stroke="#7a7a7a" stroke-width="0.65" fill="none"/>
<path d="M219,184.66V183.16M217.9,183.16H220.1" stroke="#7a7a7a" stroke-width="0.65" fill="none"/>
<path d="M229.8,187.76V184.76M228.7,184.76H230.9" stroke="#7a7a7a" stroke-width="0.65" fill="none"/>
<path d="M240.6,192.08V188.08M239.5,188.08H241.7" stroke="#7a7a7a" stroke-width="0.65" fill="none"/>
<path d="M251.4,195.95V190.95M250.3,190.95H252.5" stroke="#7a7a7a" stroke-width="0.65" fill="none"/>
<path d="M262.2,199.17V193.17M261.1,193.17H263.3" stroke="#7a7a7a" stroke-width="0.65" fill="none"/>
<path d="M208.2,183.63V182.63M207.1,182.63H209.3" stroke="#8c8ce0" stroke-width="0.65" fill="none"/>
<path d="M219,186.47V184.47M217.9,184.47H220.1" stroke="#8c8ce0" stroke-width="0.65" fill="none"/>
<path d="M229.8,190.34V187.34M228.7,187.34H230.9" stroke="#8c8ce0" stroke-width="0.65" fill="none"/>
<path d="M240.6,192.72V188.72M239.5,188.72H241.7" stroke="#8c8ce0" stroke-width="0.65" fill="none"/>
<path d="M251.4,197.17V192.17M250.3,192.17H252.5" stroke="#8c8ce0" stroke-width="0.65" fill="none"/>
<path d="M262.2,201.17V196.17M261.1,196.17H263.3" stroke="#8c8ce0" stroke-width="0.65" fill="none"/>
<path d="M208.2,189.69V188.69M207.1,188.69H209.3" stroke="#b85080" stroke-width="0.65" fill="none"/>
<path d="M219,201.69V195.69M217.9,195.69H220.1" stroke="#b85080" stroke-width="0.65" fill="none"/>
<path d="M229.8,211.17V208.17M228.7,208.17H230.9" stroke="#b85080" stroke-width="0.65" fill="none"/>
<polyline points="175.8,179.5 186.6,180.47 197.4,181.89 208.2,182.98 219,184.66 229.8,187.76 240.6,192.08 251.4,195.95 262.2,199.17" stroke="#3a3a3a" stroke-width="0.65" fill="none"/>
<circle cx="175.8" cy="179.5" r="1.5" fill="#111111"/>
<circle cx="186.6" cy="180.47" r="1.5" fill="#111111"/>
<circle cx="197.4" cy="181.89" r="1.5" fill="#111111"/>
<circle cx="208.2" cy="182.98" r="1.5" fill="#111111"/>
<circle cx="219" cy="184.66" r="1.5" fill="#111111"/>
<circle cx="229.8" cy="187.76" r="1.5" fill="#111111"/>
<circle cx="240.6" cy="192.08" r="1.5" fill="#111111"/>
<circle cx="251.4" cy="195.95" r="1.5" fill="#111111"/>
<circle cx="262.2" cy="199.17" r="1.5" fill="#111111"/>
<polyline points="175.8,179.5 186.6,180.79 197.4,181.56 208.2,183.63 219,186.47 229.8,190.34 240.6,192.72 251.4,197.17 262.2,201.17" stroke="#3434c8" stroke-width="0.65" fill="none"/>
<circle cx="175.8" cy="179.5" r="1.5" fill="#14148a"/>
<circle cx="186.6" cy="180.79" r="1.5" fill="#14148a"/>
<circle cx="197.4" cy="181.56" r="1.5" fill="#14148a"/>
<circle cx="208.2" cy="183.63" r="1.5" fill="#14148a"/>
<circle cx="219" cy="186.47" r="1.5" fill="#14148a"/>
<circle cx="229.8" cy="190.34" r="1.5" fill="#14148a"/>
<circle cx="240.6" cy="192.72" r="1.5" fill="#14148a"/>
<circle cx="251.4" cy="197.17" r="1.5" fill="#14148a"/>
<circle cx="262.2" cy="201.17" r="1.5" fill="#14148a"/>
<polyline points="175.8,179.5 186.6,181.11 197.4,183.63 208.2,189.69 219,201.69 229.8,211.17 240.6,220.33 251.4,225.62 262.2,230.97" stroke="#c0406f" stroke-width="0.65" fill="none"/>
<circle cx="175.8" cy="179.5" r="1.5" fill="#880a3c"/>
<circle cx="186.6" cy="181.11" r="1.5" fill="#880a3c"/>
<circle cx="197.4" cy="183.63" r="1.5" fill="#880a3c"/>
<circle cx="208.2" cy="189.69" r="1.5" fill="#880a3c"/>
<circle cx="219" cy="201.69" r="1.5" fill="#880a3c"/>
<circle cx="229.8" cy="211.17" r="1.5" fill="#880a3c"/>
<circle cx="240.6" cy="220.33" r="1.5" fill="#880a3c"/>
<circle cx="251.4" cy="225.62" r="1.5" fill="#880a3c"/>
<circle cx="262.2" cy="230.97" r="1.5" fill="#880a3c"/>
<circle cx="229.8" cy="180.56" r="1" fill="#1a1a1a"/>
<circle cx="240.6" cy="183.88" r="1" fill="#1a1a1a"/>
<circle cx="251.4" cy="186.75" r="1" fill="#1a1a1a"/>
<circle cx="262.2" cy="188.97" r="1" fill="#1a1a1a"/>
<text x="229.8" y="199.86" font-size="5.9" fill="#444" text-anchor="middle" font-weight="bold" style="stroke:#444;stroke-width:0.35px">#</text>
<text x="240.6" y="202.25" font-size="5.9" fill="#444" text-anchor="middle" font-weight="bold" style="stroke:#444;stroke-width:0.35px">#</text>
<text x="251.4" y="206.7" font-size="5.9" fill="#444" text-anchor="middle" font-weight="bold" style="stroke:#444;stroke-width:0.35px">#</text>
<text x="262.2" y="210.7" font-size="5.9" fill="#444" text-anchor="middle" font-weight="bold" style="stroke:#444;stroke-width:0.35px">#</text>
<text x="289.3" y="152.2" font-size="9.5" font-weight="bold" fill="#111">G</text>
<line x1="312.4" y1="154.3" x2="319.2" y2="154.3" stroke="#3a3a3a" stroke-width="0.7"/>
<circle cx="315.8" cy="154.3" r="1.3" fill="#111111"/>
<text x="323.2" y="156.15" font-size="5.3" fill="#222">oxLDL</text>
<line x1="312.4" y1="162.05" x2="319.2" y2="162.05" stroke="#c0406f" stroke-width="0.7"/>
<circle cx="315.8" cy="162.05" r="1.3" fill="#880a3c"/>
<text x="323.2" y="163.9" font-size="5.3" fill="#222">oxLDL + AvalOm®</text>
<line x1="312.4" y1="169.8" x2="319.2" y2="169.8" stroke="#ff9a3c" stroke-width="0.7"/>
<circle cx="315.8" cy="169.8" r="1.3" fill="#ff8416"/>
<text x="323.2" y="171.65" font-size="5.3" fill="#222">oxLDL + AvalOm®/MIX6</text>
<g stroke="#707070" stroke-width="1.45" fill="none">
<line x1="310.9" y1="178.9" x2="310.9" y2="244.6"/>
<line x1="310.2" y1="244.4" x2="408.9" y2="244.4"/>
<line x1="308.1" y1="179.5" x2="310.5" y2="179.5" stroke-width="1"/>
<line x1="308.1" y1="192.4" x2="310.5" y2="192.4" stroke-width="1"/>
<line x1="308.1" y1="205.3" x2="310.5" y2="205.3" stroke-width="1"/>
<line x1="308.1" y1="218.2" x2="310.5" y2="218.2" stroke-width="1"/>
<line x1="308.1" y1="231.1" x2="310.5" y2="231.1" stroke-width="1"/>
<line x1="308.1" y1="244" x2="310.5" y2="244" stroke-width="1"/>
<line x1="316.5" y1="244" x2="316.5" y2="246.7" stroke-width="1"/>
<line x1="338.1" y1="244" x2="338.1" y2="246.7" stroke-width="1"/>
<line x1="359.7" y1="244" x2="359.7" y2="246.7" stroke-width="1"/>
<line x1="381.3" y1="244" x2="381.3" y2="246.7" stroke-width="1"/>
<line x1="402.9" y1="244" x2="402.9" y2="246.7" stroke-width="1"/>
</g>
<g font-size="5" fill="#222" text-anchor="end">
<text x="307.5" y="181.7">0</text>
<text x="307.5" y="194.6">-20</text>
<text x="307.5" y="207.5">-40</text>
<text x="307.5" y="220.4">-60</text>
<text x="307.5" y="233.3">-80</text>
<text x="307.5" y="246.2">-100</text>
</g>
<g font-size="5" fill="#222" text-anchor="middle">
<text x="316.5" y="252.3">-9</text>
<text x="338.1" y="252.3">-8</text>
<text x="359.7" y="252.3">-7</text>
<text x="381.3" y="252.3">-6</text>
<text x="402.9" y="252.3">-5</text>
</g>
<text x="359.7" y="260.4" font-size="5.25" fill="#222" text-anchor="middle">ACh (Log M)</text>
<text transform="translate(294.1,210.8) rotate(-90)" font-size="5.2" fill="#222" text-anchor="middle">% Vasorelaxation</text>
<path d="M348.9,183.5V182.5M347.8,182.5H350" stroke="#7a7a7a" stroke-width="0.65" fill="none"/>
<path d="M359.7,185.5V184M358.6,184H360.8" stroke="#7a7a7a" stroke-width="0.65" fill="none"/>
<path d="M370.5,187.69V184.69M369.4,184.69H371.6" stroke="#7a7a7a" stroke-width="0.65" fill="none"/>
<path d="M381.3,191.82V187.82M380.2,187.82H382.4" stroke="#7a7a7a" stroke-width="0.65" fill="none"/>
<path d="M392.1,195.62V190.62M391,190.62H393.2" stroke="#7a7a7a" stroke-width="0.65" fill="none"/>
<path d="M402.9,200.01V194.01M401.8,194.01H404" stroke="#7a7a7a" stroke-width="0.65" fill="none"/>
<path d="M348.9,188.72V187.72M347.8,187.72H350" stroke="#b85080" stroke-width="0.65" fill="none"/>
<path d="M359.7,201.11V194.31M358.6,194.31H360.8" stroke="#b85080" stroke-width="0.65" fill="none"/>
<path d="M370.5,212.4V210.4M369.4,210.4H371.6" stroke="#b85080" stroke-width="0.65" fill="none"/>
<path d="M381.3,218.59V216.59M380.2,216.59H382.4" stroke="#b85080" stroke-width="0.65" fill="none"/>
<path d="M392.1,225.68V222.68M391,222.68H393.2" stroke="#b85080" stroke-width="0.65" fill="none"/>
<path d="M402.9,228V225M401.8,225H404" stroke="#b85080" stroke-width="0.65" fill="none"/>
<path d="M348.9,183.11V182.11M347.8,182.11H350" stroke="#ffbe78" stroke-width="0.65" fill="none"/>
<path d="M359.7,199.17V190.17M358.6,190.17H360.8" stroke="#ffbe78" stroke-width="0.65" fill="none"/>
<path d="M370.5,217.17V214.17M369.4,214.17H371.6" stroke="#ffbe78" stroke-width="0.65" fill="none"/>
<path d="M381.3,225.23V222.23M380.2,222.23H382.4" stroke="#ffbe78" stroke-width="0.65" fill="none"/>
<path d="M392.1,237.55V234.55M391,234.55H393.2" stroke="#ffbe78" stroke-width="0.65" fill="none"/>
<path d="M402.9,242V239M401.8,239H404" stroke="#ffbe78" stroke-width="0.65" fill="none"/>
<polyline points="316.5,179.5 327.3,180.15 338.1,180.92 348.9,183.5 359.7,185.5 370.5,187.69 381.3,191.82 392.1,195.62 402.9,200.01" stroke="#3a3a3a" stroke-width="0.65" fill="none"/>
<circle cx="316.5" cy="179.5" r="1.5" fill="#111111"/>
<circle cx="327.3" cy="180.15" r="1.5" fill="#111111"/>
<circle cx="338.1" cy="180.92" r="1.5" fill="#111111"/>
<circle cx="348.9" cy="183.5" r="1.5" fill="#111111"/>
<circle cx="359.7" cy="185.5" r="1.5" fill="#111111"/>
<circle cx="370.5" cy="187.69" r="1.5" fill="#111111"/>
<circle cx="381.3" cy="191.82" r="1.5" fill="#111111"/>
<circle cx="392.1" cy="195.62" r="1.5" fill="#111111"/>
<circle cx="402.9" cy="200.01" r="1.5" fill="#111111"/>
<polyline points="316.5,179.5 327.3,181.89 338.1,183.5 348.9,188.72 359.7,201.11 370.5,212.4 381.3,218.59 392.1,225.68 402.9,228" stroke="#c0406f" stroke-width="0.65" fill="none"/>
<circle cx="316.5" cy="179.5" r="1.5" fill="#880a3c"/>
<circle cx="327.3" cy="181.89" r="1.5" fill="#880a3c"/>
<circle cx="338.1" cy="183.5" r="1.5" fill="#880a3c"/>
<circle cx="348.9" cy="188.72" r="1.5" fill="#880a3c"/>
<circle cx="359.7" cy="201.11" r="1.5" fill="#880a3c"/>
<circle cx="370.5" cy="212.4" r="1.5" fill="#880a3c"/>
<circle cx="381.3" cy="218.59" r="1.5" fill="#880a3c"/>
<circle cx="392.1" cy="225.68" r="1.5" fill="#880a3c"/>
<circle cx="402.9" cy="228" r="1.5" fill="#880a3c"/>
<polyline points="316.5,179.5 327.3,181.11 338.1,182.6 348.9,183.11 359.7,199.17 370.5,217.17 381.3,225.23 392.1,237.55 402.9,242" stroke="#ff9a3c" stroke-width="0.65" fill="none"/>
<circle cx="316.5" cy="179.5" r="1.5" fill="#ff8416"/>
<circle cx="327.3" cy="181.11" r="1.5" fill="#ff8416"/>
<circle cx="338.1" cy="182.6" r="1.5" fill="#ff8416"/>
<circle cx="348.9" cy="183.11" r="1.5" fill="#ff8416"/>
<circle cx="359.7" cy="199.17" r="1.5" fill="#ff8416"/>
<circle cx="370.5" cy="217.17" r="1.5" fill="#ff8416"/>
<circle cx="381.3" cy="225.23" r="1.5" fill="#ff8416"/>
<circle cx="392.1" cy="237.55" r="1.5" fill="#ff8416"/>
<circle cx="402.9" cy="242" r="1.5" fill="#ff8416"/>
<circle cx="370.5" cy="181.29" r="1" fill="#1a1a1a"/>
<circle cx="381.3" cy="184.42" r="1" fill="#1a1a1a"/>
<circle cx="392.1" cy="187.22" r="1" fill="#1a1a1a"/>
<circle cx="402.9" cy="190.61" r="1" fill="#1a1a1a"/>
<text x="370.5" y="198.22" font-size="5.9" fill="#444" text-anchor="middle" font-weight="bold" style="stroke:#444;stroke-width:0.35px">#</text>
<text x="381.3" y="202.34" font-size="5.9" fill="#444" text-anchor="middle" font-weight="bold" style="stroke:#444;stroke-width:0.35px">#</text>
<text x="392.1" y="206.15" font-size="5.9" fill="#444" text-anchor="middle" font-weight="bold" style="stroke:#444;stroke-width:0.35px">#</text>
<text x="402.9" y="210.53" font-size="5.9" fill="#444" text-anchor="middle" font-weight="bold" style="stroke:#444;stroke-width:0.35px">#</text>
<text x="381.3" y="226.23" font-size="6.2" fill="#444" text-anchor="middle">§</text>
<text x="392.1" y="232.93" font-size="6.2" fill="#444" text-anchor="middle">§</text>
<text x="402.9" y="238.73" font-size="6.2" fill="#444" text-anchor="middle">§</text>
</svg>
</body></html>
